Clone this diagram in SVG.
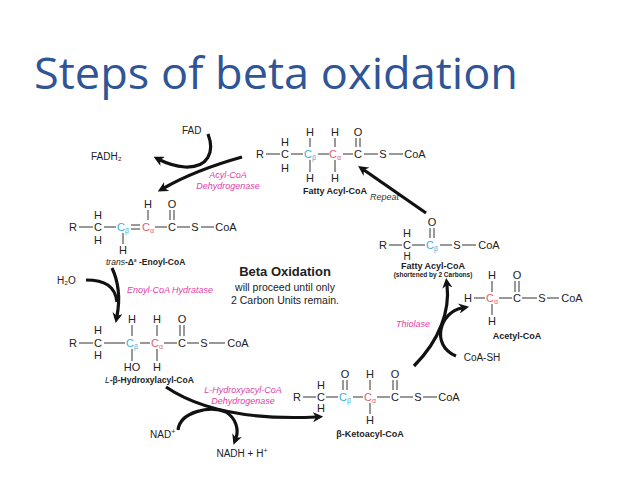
<svg xmlns="http://www.w3.org/2000/svg" width="638" height="478" viewBox="0 0 638 478">
<defs>
<style>
text{font-family:"Liberation Sans",Arial,sans-serif;font-size:11px;fill:#222}
.a{text-anchor:middle}
.b{fill:#3aaed8}.r{fill:#e0606e}
.p{fill:#e040a8;font-style:italic;font-size:9px;text-anchor:middle}
.n{font-weight:bold;font-size:9px;text-anchor:middle}
.bd{stroke:#333;stroke-width:1;fill:none}
.ar{stroke:#111;stroke-width:3.2;fill:none;marker-end:url(#h)}
.cu{stroke:#111;stroke-width:3.2;fill:none}
</style>
<marker id="h" viewBox="0 0 10 10" refX="3" refY="5" markerWidth="3.2" markerHeight="3.2" orient="auto"><path d="M0,0L10,5L0,10L3,5z" fill="#111"/></marker>
</defs>
<rect width="638" height="478" fill="#fff"/>
<text x="34" y="89" textLength="484" lengthAdjust="spacingAndGlyphs" style="font-family:'Open Sans',sans-serif;font-size:44px;fill:#2f5597">Steps of beta oxidation</text>

<g id="fatty-acyl-coa">
<text class="a" x="260" y="158">R</text><text class="a" x="285" y="158">C</text>
<text class="a b" x="310" y="158">C<tspan font-size="7" dy="2">β</tspan></text>
<text class="a r" x="335" y="158">C<tspan font-size="7" dy="2">α</tspan></text>
<text class="a" x="358" y="158">C</text><text class="a" x="383" y="158">S</text><text class="a" x="415" y="158">CoA</text>
<text class="a" x="285" y="146">H</text><text class="a" x="285" y="172">H</text>
<text class="a" x="310" y="136">H</text><text class="a" x="335" y="136">H</text><text class="a" x="358" y="136">O</text>
<text class="a" x="310" y="182">H</text><text class="a" x="335" y="182">H</text>
<path class="bd" d="M266 154H280M291 154H303M318 154H329M343 154H353M364 154H378M389 154H403M310 138V147M335 138V147M310 160V172M335 160V172M356 138V147M360 138V147"/>
<text class="n" x="335" y="194">Fatty Acyl-CoA</text>
</g>

<g id="enoyl-coa">
<text class="a" x="73" y="231">R</text><text class="a" x="98" y="231">C</text>
<text class="a b" x="123" y="231">C<tspan font-size="7" dy="2">β</tspan></text>
<text class="a r" x="148" y="231">C<tspan font-size="7" dy="2">α</tspan></text>
<text class="a" x="172" y="231">C</text><text class="a" x="195" y="231">S</text><text class="a" x="226" y="231">CoA</text>
<text class="a" x="98" y="219">H</text><text class="a" x="98" y="244">H</text>
<text class="a" x="148" y="208">H</text><text class="a" x="172" y="208">O</text><text class="a" x="123" y="254">H</text>
<path class="bd" d="M79 227H93M104 227H116M131 225H140M131 229H140M155 227H167M177 227H190M201 227H214M148 210V220M170 210V220M174 210V220M123 233V244"/>
<text x="106" y="265" style="font-size:8.5px;font-weight:bold"><tspan style="font-style:italic;font-weight:normal">trans</tspan>-Δ² -Enoyl-CoA</text>
</g>

<g id="hydroxyacyl-coa">
<text class="a" x="73" y="347">R</text><text class="a" x="98" y="347">C</text>
<text class="a b" x="132" y="347">C<tspan font-size="7" dy="2">β</tspan></text>
<text class="a r" x="157" y="347">C<tspan font-size="7" dy="2">α</tspan></text>
<text class="a" x="182" y="347">C</text><text class="a" x="204" y="347">S</text><text class="a" x="238" y="347">CoA</text>
<text class="a" x="98" y="334">H</text><text class="a" x="98" y="359">H</text>
<text class="a" x="132" y="323">H</text><text class="a" x="157" y="323">H</text><text class="a" x="182" y="323">O</text>
<text class="a" x="132" y="371">HO</text><text class="a" x="157" y="371">H</text>
<path class="bd" d="M79 343H93M104 343H125M140 343H150M164 343H177M187 343H199M209 343H225M132 325V336M157 325V336M180 325V336M184 325V336M132 349V361M157 349V361"/>
<text x="105" y="383" style="font-size:8.5px;font-weight:bold"><tspan style="font-style:italic;font-weight:normal">L</tspan>-β-Hydroxylacyl-CoA</text>
</g>

<g id="ketoacyl-coa">
<text class="a" x="297" y="401">R</text><text class="a" x="321" y="401">C</text>
<text class="a b" x="345" y="401">C<tspan font-size="7" dy="2">β</tspan></text>
<text class="a r" x="370" y="401">C<tspan font-size="7" dy="2">α</tspan></text>
<text class="a" x="395" y="401">C</text><text class="a" x="418" y="401">S</text><text class="a" x="449" y="401">CoA</text>
<text class="a" x="321" y="389">H</text><text class="a" x="321" y="412">H</text>
<text class="a" x="345" y="378">O</text><text class="a" x="370" y="378">H</text><text class="a" x="395" y="378">O</text><text class="a" x="370" y="424">H</text>
<path class="bd" d="M303 397H316M326 397H338M353 397H363M377 397H390M400 397H413M423 397H437M343 380V390M347 380V390M370 380V390M393 380V390M397 380V390M370 403V414"/>
<text class="n" x="370" y="437">β-Ketoacyl-CoA</text>
</g>

<g id="shortened-fatty-acyl-coa">
<text class="a" x="383" y="249">R</text><text class="a" x="407" y="249">C</text>
<text class="a b" x="432" y="249">C<tspan font-size="7" dy="2">β</tspan></text>
<text class="a" x="457" y="249">S</text><text class="a" x="489" y="249">CoA</text>
<text class="a" x="407" y="237">H</text><text class="a" x="407" y="260" style="font-size:10px">H</text><text class="a" x="432" y="226">O</text>
<path class="bd" d="M389 245H402M412 245H425M440 245H452M462 245H476M430 228V238M434 228V238"/>
<text class="n" x="433" y="269">Fatty Acyl-CoA</text>
<text class="n" x="433" y="277" style="font-size:6.5px">(shortened by 2 Carbons)</text>
</g>

<g id="acetyl-coa">
<text class="a" x="468" y="302">H</text>
<text class="a r" x="492" y="302">C<tspan font-size="7" dy="2">α</tspan></text>
<text class="a" x="517" y="302">C</text><text class="a" x="542" y="302">S</text><text class="a" x="572" y="302">CoA</text>
<text class="a" x="492" y="279">H</text><text class="a" x="517" y="279">O</text><text class="a" x="492" y="325">H</text>
<path class="bd" d="M474 298H485M499 298H512M522 298H537M547 298H559M492 281V292M515 281V292M519 281V292M492 304V315"/>
<text class="n" x="517" y="339">Acetyl-CoA</text>
</g>

<g id="labels">
<text x="182" y="134" style="font-size:10px">FAD</text>
<text x="91" y="160" style="font-size:10px">FADH₂</text>
<text class="p" x="228" y="178">Acyl-CoA</text><text class="p" x="228" y="189">Dehydrogenase</text>
<text x="370" y="200" style="font-size:9px;font-style:italic;fill:#333">Repeat</text>
<text x="57" y="284" style="font-size:10px">H₂O</text>
<text class="p" x="170" y="293">Enoyl-CoA Hydratase</text>
<text x="285" y="276" style="font-size:13px;font-weight:bold;text-anchor:middle">Beta Oxidation</text>
<text x="285" y="291" style="font-size:10.5px;text-anchor:middle">will proceed until only</text>
<text x="285" y="304" style="font-size:10.5px;text-anchor:middle">2 Carbon Units remain.</text>
<text class="p" x="413" y="327">Thiolase</text>
<text x="482" y="361" style="font-size:10px;text-anchor:middle">CoA-SH</text>
<text class="p" x="243" y="393">L-Hydroxyacyl-CoA</text><text class="p" x="243" y="404">Dehydrogenase</text>
<text x="150" y="438" style="font-size:10px">NAD<tspan font-size="7" dy="-4">+</tspan></text>
<text x="242" y="457" style="font-size:10px;text-anchor:middle">NADH + H<tspan font-size="7" dy="-4">+</tspan></text>
</g>

<g id="connectors">
<path class="ar" d="M242 157C210 166 185 176 164 188"/>
<path class="ar" d="M208 134C215 152 208 168 185 167C175 166 168 164 160 160"/>
<path class="ar" d="M112 268C120 285 120 300 117 316"/>
<path class="cu" d="M86 280C105 280 115 286 117 302"/>
<path class="ar" d="M166 387C200 410 250 420 316 417"/>
<path class="ar" d="M178 430C180 412 210 405 226 412C236 418 239 430 236 438"/>
<path class="ar" d="M414 366C440 340 450 310 447 285"/>
<path class="ar" d="M456 356C430 345 440 312 462 308"/>
<path class="ar" d="M426 213L364 170"/>
</g>
</svg>
